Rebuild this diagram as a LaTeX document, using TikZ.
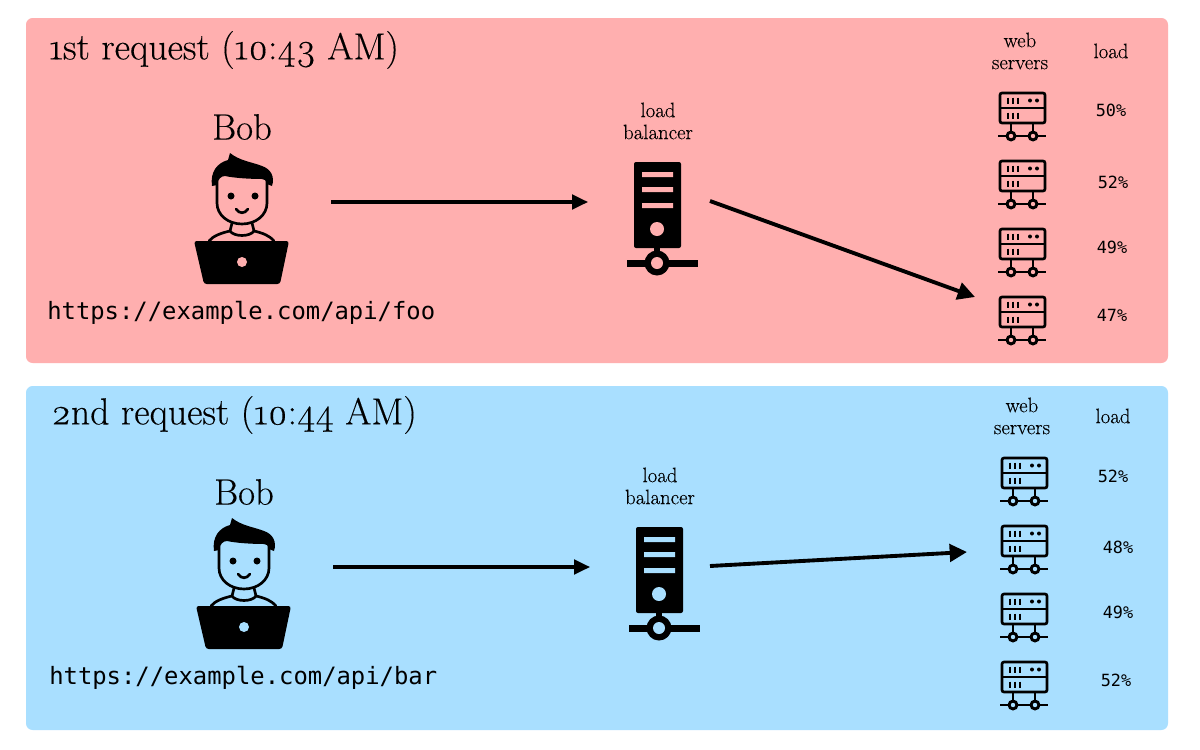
\documentclass[tikz,border=0pt]{standalone}
\usepackage{fontspec}
\setmainfont[Numbers=OldStyle,FakeBold=0.25]{Latin Modern Roman}
\setmonofont{DejaVu Sans Mono}
\usetikzlibrary{arrows.meta}
\definecolor{panelred}{HTML}{FFAFAF}
\definecolor{panelblue}{HTML}{A9DFFF}
\tikzset{
  x=0.75pt,y=-0.75pt,
  panel/.style={rounded corners=5pt,line width=0pt},
  port/.style={inner sep=0pt,minimum size=0pt,outer sep=0pt},
  titletext/.style={font=\fontsize{28.3}{30}\selectfont,anchor=west,inner sep=0pt},
  bobtext/.style={font=\fontsize{27.5}{29}\selectfont,inner sep=0pt},
  small/.style={font=\fontsize{15.6}{16.5}\selectfont,align=center,inner sep=0pt},
  urltext/.style={font=\ttfamily\fontsize{17.9}{20}\selectfont,anchor=west,inner sep=0pt},
  pct/.style={font=\ttfamily\fontsize{12.6}{14}\selectfont,inner sep=0pt},
  flow/.style={line width=2.3pt,-{Triangle[length=12pt,width=11pt]}},
  flowb/.style={line width=2.9pt,-{Triangle[length=13pt,width=13pt]}},
  bobicon/.pic={
    \fill[black] (212,186) .. controls (210,172) and (217,163) .. (228,160)
       -- (230,153) .. controls (240,161) and (252,162) .. (262,166)
       .. controls (271,169) and (275,177) .. (272,186)
       -- (267,184) .. controls (266,180) and (264,179) .. (262,179)
       .. controls (250,179) and (234,178) .. (225,176)
       .. controls (221,176) and (218,179) .. (217,185) -- cycle;
    \draw[line width=2pt,line cap=round,line join=round]
       (217,181) -- (217,203) .. controls (217,215) and (228,224) .. (242,224)
       .. controls (256,224) and (267,215) .. (267,203) -- (267,181);
    \fill (231,196) circle (3.5);
    \fill (255,196) circle (3.5);
    \draw[line width=2pt,line cap=round] (236,209) .. controls (239,214) and (245,214) .. (248,209);
    \draw[line width=2pt,line cap=round,line join=round]
       (232,223) -- (230,231) .. controls (234,237) and (250,237) .. (254,231) -- (252,223);
    \draw[line width=2pt,line cap=round] (230,231) .. controls (221,233) and (213,236) .. (209,241);
    \draw[line width=2pt,line cap=round] (254,231) .. controls (263,233) and (270,236) .. (274,241);
    \fill[black,rounded corners=2pt] (194,241) -- (289,241) -- (280,284) -- (204,284) -- cycle;
  },
  servericon/.pic={
    \fill[black,rounded corners=1.5pt] (634,162) rectangle (681,248);
    \fill[black] (654,246) rectangle (660,256);
    \fill[black] (627,260) rectangle (698,267);
    \fill[black] (657,263) circle (12.5);
  },
  rackicon/.pic={
    \draw[line width=2pt,rounded corners=1.5pt] (0,0) rectangle (45,30);
    \draw[line width=2pt] (0,15) -- (45,15);
    \draw[line width=2pt] (11,30) -- (11,43) (33,30) -- (33,43);
    \draw[line width=2pt] (-2,43) -- (46,43);
    \foreach \tx in {8,13,18}{
      \draw[line width=1.5pt] (\tx,4.5) -- (\tx,10.5);
      \draw[line width=1.5pt] (\tx,19.5) -- (\tx,25.5);
    }
    \fill (30,7.5) circle (2);
    \fill (37,7.5) circle (2);
    \fill (11,43) circle (5.5);
    \fill (33,43) circle (5.5);
  },
}
\begin{document}
\begin{tikzpicture}
\useasboundingbox (0,0) rectangle (1200,750);
\fill[white] (0,0) rectangle (1200,750);
% ---------- red panel
\fill[panelred,panel] (26,18) rectangle (1168,363);
\node[titletext] (titleA) at (49,50) {1st request (10:43 AM)};
\node[bobtext] (bobA) at (242,127) {Bob};
\pic at (0,0) {bobicon};
\fill[panelred] (242,262) circle (5);
\node[urltext] (urlA) at (47,313) {https://example.com/api/foo};
\node[small] (lbA) at (658,121) {load\\balancer};
\pic at (0,0) {servericon};
\fill[panelred] (642,172) rectangle (673,177) (642,187) rectangle (673,192) (642,203) rectangle (673,208);
\fill[panelred] (657,229) circle (7) (657,263) circle (6);
\node[small] (webA) at (1020,51) {web\\servers};
\node[small] (loadA) at (1111,51) {load};
\foreach \ry/\cx/\cy/\t in {93/1111/110/50\%,161/1113/182/52\%,229/1112/247/49\%,297/1112/315/47\%}{
  \pic at (1000,\ry) {rackicon};
  \fill[panelred] (1011,\ry+43) circle (2.2) (1033,\ry+43) circle (2.2);
  \node[pct] at (\cx,\cy) {\t};
}
\node[port] (bobAout) at (331,202) {};
\node[port] (lbAin) at (588,202) {};
\node[port] (lbAout) at (710,201) {};
\node[port] (rackAin) at (975,297) {};
\draw[flow] (bobAout) -- (lbAin);
\draw[flowb] (lbAout) -- (rackAin);
% ---------- blue panel
\fill[panelblue,panel] (26,386) rectangle (1168,730);
\node[titletext] (titleB) at (51,415) {2nd request (10:44 AM)};
\node[bobtext] (bobB) at (244,492) {Bob};
\pic at (2,365) {bobicon};
\fill[panelblue] (244,627) circle (5);
\node[urltext] (urlB) at (49,678) {https://example.com/api/bar};
\node[small] (lbB) at (660,486) {load\\balancer};
\pic at (2,365) {servericon};
\fill[panelblue] (644,537) rectangle (675,542) (644,552) rectangle (675,557) (644,568) rectangle (675,573);
\fill[panelblue] (659,594) circle (7) (659,628) circle (6);
\node[small] (webB) at (1022,416) {web\\servers};
\node[small] (loadB) at (1113,416) {load};
\foreach \ry/\cx/\cy/\t in {458/1113/476/52\%,526/1118/547/48\%,594/1118/612/49\%,662/1116/680/52\%}{
  \pic at (1002,\ry) {rackicon};
  \fill[panelblue] (1013,\ry+43) circle (2.2) (1035,\ry+43) circle (2.2);
  \node[pct] at (\cx,\cy) {\t};
}
\node[port] (bobBout) at (333,567) {};
\node[port] (lbBin) at (590,567) {};
\node[port] (lbBout) at (710,566) {};
\node[port] (rackBin) at (967,552) {};
\draw[flow] (bobBout) -- (lbBin);
\draw[flowb] (lbBout) -- (rackBin);
\end{tikzpicture}
\end{document}
